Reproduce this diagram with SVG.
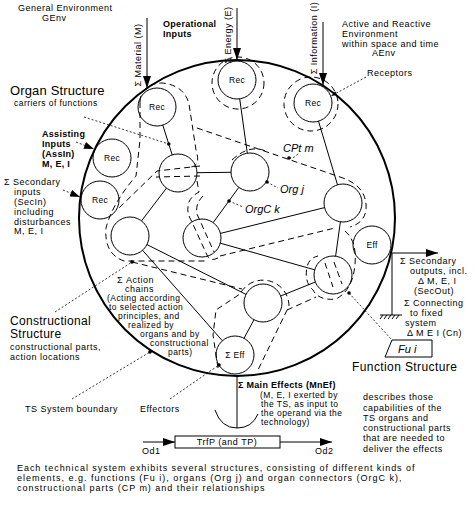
<svg xmlns="http://www.w3.org/2000/svg" width="474" height="505" viewBox="0 0 474 505">
<defs>
<style>
text{font-family:"Liberation Sans",Arial,sans-serif;fill:#000}
.t{font-size:9px;letter-spacing:0.5px}
.a{font-size:8.5px;letter-spacing:0.45px}
.b{font-size:9px;font-weight:bold;letter-spacing:0.3px}
.h{font-size:13px;letter-spacing:0.15px}
.i{font-style:italic;font-size:11px}
.r{font-size:8.5px;text-anchor:middle;letter-spacing:0.3px}
.c{fill:none;stroke:#000;stroke-width:1}
.s{fill:none;stroke:#000;stroke-width:1}
.d{fill:none;stroke:#000;stroke-width:1;stroke-dasharray:6 4}
.o{fill:none;stroke:#000;stroke-width:0.8;stroke-dasharray:2 2}
.bnd{fill:none;stroke:#000;stroke-width:2}
.dot{fill:#000}
</style>
<marker id="ah" viewBox="0 0 12 8" refX="12" refY="4" markerWidth="12" markerHeight="8" orient="auto" markerUnits="userSpaceOnUse"><path d="M0,0 L12,4 L0,8 z" fill="#000"/></marker>
<marker id="as" viewBox="0 0 10 7" refX="10" refY="3.5" markerWidth="10" markerHeight="7" orient="auto" markerUnits="userSpaceOnUse"><path d="M0,0 L10,3.5 L0,7 z" fill="#000"/></marker>
<marker id="am" viewBox="0 0 6 4" refX="6" refY="2" markerWidth="6" markerHeight="4" orient="auto" markerUnits="userSpaceOnUse"><path d="M0,0 L6,2 L0,4 z" fill="#000"/></marker>
</defs>

<!-- environment labels -->
<text class="t" x="18" y="11">General Environment</text>
<text class="t" x="42" y="21">GEnv</text>
<text class="b" x="163" y="27">Operational</text>
<text class="b" x="163" y="37">Inputs</text>
<text class="t" x="342" y="27">Active and Reactive</text>
<text class="t" x="342" y="37">Environment</text>
<text class="t" x="342" y="47">within space and time</text>
<text class="t" x="372" y="56">AEnv</text>
<text class="t" x="367" y="76">Receptors</text>
<text class="h" x="10" y="95">Organ Structure</text>
<text class="a" x="14" y="106">carriers of functions</text>

<!-- system boundary -->
<circle id="boundary" class="bnd" cx="237" cy="218" r="158"/>

<!-- input arrows -->
<g id="inputs">
<line class="s" x1="147" y1="18" x2="147" y2="88" stroke-width="1.3" marker-end="url(#ah)"/>
<text class="t" transform="translate(141,55) rotate(-90)" text-anchor="middle">Σ Material (M)</text>
<line class="s" x1="237" y1="8" x2="237" y2="60" stroke-width="1.3" marker-end="url(#ah)"/>
<text class="t" transform="translate(231,35) rotate(-90)" text-anchor="middle">Σ Energy (E)</text>
<line class="s" x1="323" y1="22" x2="323" y2="85" stroke-width="1.3" marker-end="url(#ah)"/>
<text class="t" transform="translate(317,38) rotate(-90)" text-anchor="middle">Σ Information (I)</text>
</g>

<!-- construction parts (dashed) -->
<g id="constructional-parts">
<path class="d" d="M140,102 Q141,84 162,83 Q184,85 189,104 L196,150 Q201,166 191,167"/>
<path class="d" d="M140,102 L140,140 L136,176 Q112,204 106,228 Q104,254 124,261 L207,261"/>
<path class="d" d="M200,166 L157,171 L119,208"/>
<path class="d" d="M200,176 L156,177"/>
<path class="d" d="M197,128 L340,177 Q368,186 366,210 Q364,223 350,227"/>
<path class="d" d="M232,160 Q250,143 268,152"/>
<circle class="d" cx="238" cy="83" r="26"/>
<circle class="d" cx="311" cy="104" r="27"/>
<path class="d" d="M197,181 L199,192 Q188,198 188,207 Q187,213 191,220 L207,255 Q210,262 218,258"/>
<path class="d" d="M203,196 Q195,204 197,214 L214,252"/>
<path class="d" d="M220,256 L335,228"/>
<path class="d" d="M132,262 L242,289"/>
<path class="d" d="M218,368 L213,335 L216,310 L240,294 A26,26 0 0 1 289,306 L258,370"/>
<path class="d" d="M287,310 L316,297"/>
<path class="d" d="M345,231 Q357,241 355,264 Q353,290 336,299 Q319,301 313,290 Q304,282 307,267 Q309,258 318,256"/>
<path class="d" d="M325,263 L333,287 M334,262 L342,284"/>
</g>

<!-- organ connectors -->
<g id="connectors">
<line class="s" x1="162.8" y1="125.1" x2="172.2" y2="154.9"/>
<line class="s" x1="239.7" y1="98.8" x2="247.3" y2="153.2"/>
<line class="s" x1="318.5" y1="121.2" x2="337.5" y2="184.8"/>
<line class="s" x1="197" y1="172.7" x2="231" y2="172.3"/>
<line class="s" x1="166.5" y1="188.1" x2="141.5" y2="220.9"/>
<line class="s" x1="238.8" y1="187.4" x2="213.2" y2="222.6"/>
<line class="s" x1="220.4" y1="233.4" x2="324.6" y2="207.6"/>
<line class="s" x1="220.3" y1="243.2" x2="314.7" y2="269.8"/>
<line class="s" x1="147" y1="244.6" x2="246" y2="294.4"/>
<line class="s" x1="142.6" y1="250.3" x2="222.4" y2="340.8"/>
<line class="s" x1="280.6" y1="296" x2="315.4" y2="282"/>
<line class="s" x1="254" y1="319.7" x2="244" y2="338.3"/>
<line class="s" x1="340.4" y1="221.8" x2="335.6" y2="256.2"/>
</g>

<!-- nodes -->
<g id="rec1"><circle class="c" cx="157" cy="107" r="19"/><text class="r" x="157" y="110">Rec</text></g>
<g id="rec2"><circle class="c" cx="237" cy="80" r="19"/><text class="r" x="237" y="83">Rec</text></g>
<g id="rec3"><circle class="c" cx="313" cy="103" r="19"/><text class="r" x="313" y="106">Rec</text></g>
<g id="rec4"><circle class="c" cx="112" cy="158" r="19"/><text class="r" x="112" y="161">Rec</text></g>
<g id="rec5"><circle class="c" cx="100" cy="200" r="19"/><text class="r" x="100" y="203">Rec</text></g>
<g id="organ1"><circle class="c" cx="178" cy="173" r="19"/></g>
<g id="organ2"><circle class="c" cx="250" cy="172" r="19"/></g>
<g id="organ3"><circle class="c" cx="130" cy="236" r="19"/></g>
<g id="organ4"><circle class="c" cx="202" cy="238" r="19"/></g>
<g id="organ5"><circle class="c" cx="343" cy="203" r="19"/></g>
<g id="organ6"><circle class="c" cx="333" cy="275" r="19"/></g>
<g id="organ7"><circle class="c" cx="263" cy="303" r="19"/></g>
<g id="eff"><circle class="c" cx="372" cy="245" r="19"/><text class="r" x="372" y="248">Eff</text></g>
<g id="sum-eff"><circle class="c" cx="235" cy="355" r="19"/><text class="r" x="235" y="358">Σ Eff</text></g>

<!-- element labels -->
<g id="labels">
<text class="i" x="283" y="152">CPt  m</text>
<text class="i" x="280" y="193">Org  j</text>
<text class="i" x="245" y="213">OrgC  k</text>
<path class="o" d="M289,158 Q296,158 298,153"/>
<circle class="dot" cx="289" cy="158" r="1.8"/>
<line class="o" x1="267" y1="182" x2="278" y2="188"/>
<circle class="dot" cx="267" cy="182" r="1.8"/>
<line class="o" x1="229" y1="201" x2="243" y2="207"/>
<circle class="dot" cx="229" cy="201" r="1.8"/>
<line class="o" x1="84" y1="117" x2="168.8" y2="144"/>
<circle class="dot" cx="168.8" cy="144" r="1.8"/>
<line class="o" x1="366" y1="77" x2="331" y2="96" marker-end="url(#am)"/>
</g>

<!-- left side inputs -->
<g id="assisting">
<text class="b" x="42" y="137">Assisting</text>
<text class="b" x="42" y="147">Inputs</text>
<text class="b" x="42" y="157">(AssIn)</text>
<text class="b" x="42" y="167">M,  E,  I</text>
<line class="o" x1="76" y1="142" x2="94" y2="149" marker-end="url(#as)"/>
</g>
<g id="secondary-in">
<text class="t" x="4" y="185">Σ Secondary</text>
<text class="t" x="14" y="195">inputs</text>
<text class="t" x="14" y="205">(SecIn)</text>
<text class="t" x="14" y="215">including</text>
<text class="t" x="14" y="225">disturbances</text>
<text class="t" x="14" y="234">M,  E,  I</text>
<line class="o" x1="63" y1="190" x2="80" y2="197" marker-end="url(#as)"/>
</g>

<!-- action chains -->
<g id="action-chains">
<text class="t" x="117" y="283">Σ Action</text>
<text class="t" x="125" y="292">chains</text>
<text class="a" x="107" y="301">(Acting according</text>
<text class="a" x="109" y="310">to selected action</text>
<text class="a" x="118" y="319">principles, and</text>
<text class="a" x="128" y="328">realized by</text>
<text class="a" x="140" y="337">organs and by</text>
<text class="a" x="150" y="346">constructional</text>
<text class="a" x="168" y="355">parts)</text>
<line class="o" x1="55" y1="312" x2="132" y2="262"/>
<circle class="dot" cx="132" cy="262" r="1.8"/>
</g>

<text class="h" x="10" y="325" style="font-size:12px;letter-spacing:0.3px">Constructional</text>
<text class="h" x="10" y="338" style="font-size:12px;letter-spacing:0.3px">Structure</text>
<text class="t" x="10" y="350">constructional parts,</text>
<text class="t" x="10" y="360">action locations</text>

<g id="boundary-label">
<text class="t" x="25" y="412">TS System boundary</text>
<line class="o" x1="72" y1="399" x2="150" y2="352"/>
<circle class="dot" cx="150" cy="352" r="1.8"/>
</g>
<g id="effectors-label">
<text class="t" x="140" y="412">Effectors</text>
<line class="o" x1="170" y1="399" x2="219" y2="365"/>
<circle class="dot" cx="219" cy="365" r="1.8"/>
</g>

<!-- right outputs -->
<g id="secondary-out">
<line class="s" x1="392" y1="253" x2="438" y2="253" stroke-width="1.3" marker-end="url(#ah)"/>
<text class="t" x="400" y="264">Σ Secondary</text>
<text class="t" x="410" y="274">outputs,  incl.</text>
<text class="t" x="418" y="284">Δ  M,  E,  I</text>
<text class="t" x="414" y="294">(SecOut)</text>
</g>
<g id="connecting">
<line class="s" x1="392" y1="253" x2="392" y2="315" stroke-width="1.3"/>
<line class="s" x1="380" y1="315" x2="402" y2="315" stroke-width="1.3"/>
<path class="s" d="M383,315 l-3,4 M387,315 l-3,4 M391,315 l-3,4 M395,315 l-3,4 M399,315 l-3,4"/>
<text class="t" x="404" y="306">Σ Connecting</text>
<text class="t" x="410" y="316">to  fixed</text>
<text class="t" x="405" y="326">system</text>
<text class="t" x="407" y="336">Δ  M  E  I  (Cn)</text>
</g>
<g id="function">
<line class="o" x1="349" y1="293" x2="392" y2="340"/>
<circle class="dot" cx="349" cy="293" r="1.8"/>
<path class="s" d="M392,340 L432,340 L432,357 L385,357 z"/>
<text class="i" x="398" y="353">Fu  i</text>
<text class="h" x="352" y="371" style="font-size:12px;letter-spacing:0.4px">Function Structure</text>
</g>

<!-- main effects -->
<g id="main-effects">
<line class="s" x1="237" y1="375" x2="237" y2="428" stroke-width="1.3"/>
<path class="s" d="M215,410 Q221,428 237,428 Q252,428 258,414" stroke-width="1.5"/>
<text class="b" x="238" y="388">Σ Main Effects (MnEf)</text>
<text class="a" x="260" y="398">(M,  E,  I  exerted by</text>
<text class="a" x="261" y="407">the TS, as input to</text>
<text class="a" x="261" y="416">the operand via the</text>
<text class="a" x="261" y="425">technology)</text>
</g>
<g id="process">
<rect class="s" x="175" y="436" width="105" height="12"/>
<text class="t" x="227" y="445" text-anchor="middle">TrfP  (and  TP)</text>
<line class="s" x1="143" y1="442" x2="175" y2="442" marker-end="url(#ah)"/>
<line class="s" x1="280" y1="442" x2="332" y2="442" marker-end="url(#ah)"/>
<text class="t" x="142" y="454">Od1</text>
<text class="t" x="315" y="454">Od2</text>
</g>
<g id="describes">
<text class="t" x="363" y="400">describes  those</text>
<text class="t" x="363" y="411">capabilities of the</text>
<text class="t" x="363" y="421">TS organs and</text>
<text class="t" x="363" y="431">constructional parts</text>
<text class="t" x="363" y="441">that are needed to</text>
<text class="t" x="363" y="452">deliver the effects</text>
</g>

<g id="caption">
<text class="t" x="17" y="471" textLength="398" lengthAdjust="spacing">Each technical system exhibits several structures, consisting of different kinds of</text>
<text class="t" x="17" y="481" textLength="385" lengthAdjust="spacing">elements, e.g. functions (Fu i), organs (Org j) and organ connectors (OrgC k),</text>
<text class="t" x="17" y="491" textLength="248" lengthAdjust="spacing">constructional parts (CP m) and their relationships</text>
</g>
</svg>
